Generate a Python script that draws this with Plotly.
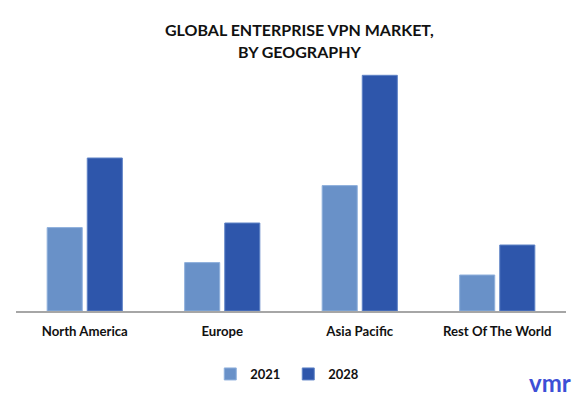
import plotly.graph_objects as go

categories = ["North America", "Europe", "Asia Pacific", "Rest Of The World"]
series_names = ["2021", "2028"]
values_2021 = [83.4, 48.4, 125.4, 36.0]
values_2028 = [153.0, 88.0, 235.7, 66.0]
colors = ["#6991c8", "#2e56ab"]
line_colors = ["#8fb0dc", "#5f83c6"]

fig = go.Figure()
for name, vals, c, lc in zip(series_names, [values_2021, values_2028], colors, line_colors):
    fig.add_trace(go.Bar(
        x=categories, y=vals, name=name,
        marker=dict(color=c, line=dict(color=lc, width=1)),
    ))

W, H = 576, 388
T, B = 52, 85
PH = H - T - B


def py(pix):
    return (H - B - pix) / PH


fig.update_layout(
    width=W, height=H,
    paper_bgcolor="white", plot_bgcolor="white",
    margin=dict(l=8, r=18, t=T, b=B, autoexpand=False),
    barmode="group", bargap=0.417, bargroupgap=0.125,
    font=dict(family="Lato", color="#111111"),
    showlegend=True,
    legend=dict(
        orientation="h", x=0.495, xanchor="center", y=-0.251, yanchor="middle",
        font=dict(family="Lato", size=13, color="#111111", weight="bold"),
        entrywidth=33, traceorder="normal",
    ),
    xaxis=dict(
        showline=True, linecolor="#a6a6a6", linewidth=1.5,
        ticks="outside", ticklen=7, tickcolor="rgba(0,0,0,0)",
        tickfont=dict(family="Lato", size=13.2, color="#111111", weight="bold"),
        showgrid=False, zeroline=False,
    ),
    yaxis=dict(range=[0, PH], visible=False, showgrid=False, zeroline=False),
    annotations=[
        dict(text="GLOBAL ENTERPRISE VPN MARKET,", xref="paper", yref="paper",
             x=0.515, xanchor="center", y=py(21.0), yanchor="middle", showarrow=False,
             font=dict(family="Lato", size=16, color="#111111", weight="bold")),
        dict(text="BY GEOGRAPHY", xref="paper", yref="paper",
             x=0.515, xanchor="center", y=py(43.5), yanchor="middle", showarrow=False,
             font=dict(family="Lato", size=16, color="#111111", weight="bold")),
        dict(text="vmr", xref="paper", yref="paper",
             x=1.0127, xanchor="right", y=py(374.5), yanchor="middle", showarrow=False,
             font=dict(family="Lato", size=24, color="#3d4fd6", weight="bold")),
    ],
)

fig.write_html("out.html")
